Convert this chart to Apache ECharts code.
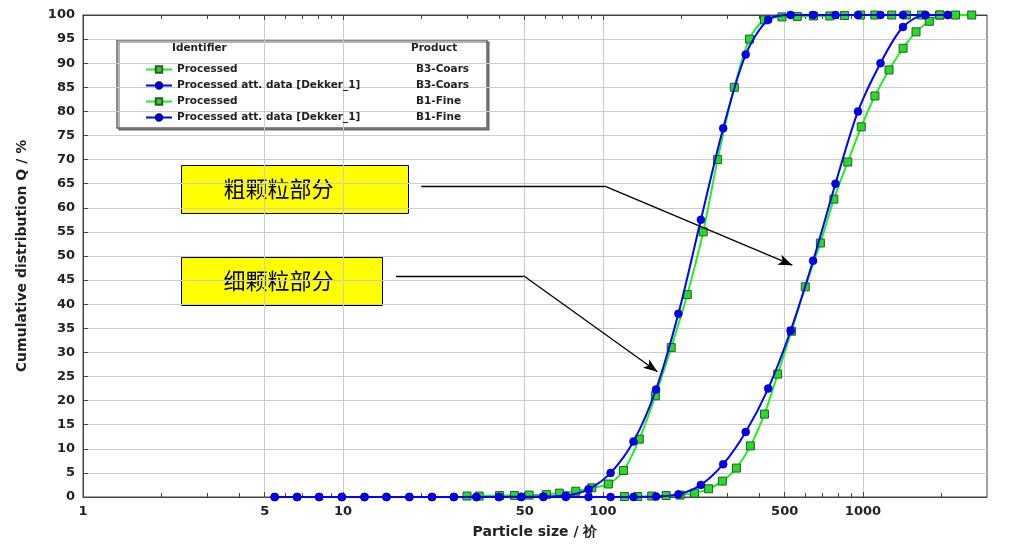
<!DOCTYPE html>
<html><head><meta charset="utf-8">
<script src="https://cdn.jsdelivr.net/npm/echarts@6/dist/echarts.min.js"></script>
<style>html,body{margin:0;background:#fff}#c{width:1024px;height:546px}</style></head>
<body><div id="c"></div>
<script>
const tickValues=[1,5,10,50,100,500,1000];
const sieveBlue=[5.46,6.66,8.1,9.9,12.1,14.7,18,22,26.7,32.6,39.8,48.5,59,72,88,107,131,160,195,238,290,354,432,527,643,784,957,1168,1425,1738,2121];
const coarseBlueQ=[0,0,0,0,0,0,0,0,0,0,0,0.05,0.1,0.3,1.6,5,11.5,22.3,38,57.5,76.5,91.8,99,100,100,100,100,100,100,100,100];
const fineBlueSize=[5.46,6.66,8.1,9.9,12.1,14.7,18,22,26.7,32.6,39.8,48.5,59,72,88,107,131,160,195,238,290,354,432,527,643,784,957,1168,1425,1738,2121];
const fineBlueQ=[0,0,0,0,0,0,0,0,0,0,0,0,0,0,0,0,0,0.1,0.5,2.5,6.8,13.5,22.5,34.5,49,65,80,90,97.5,100,100];
const coarseGreenSize=[30,33.4,40,45.7,52,60.6,68,78.6,90.6,105,120,138,159,183,211,243,276,320,366,418,488,559,645,746,850,980,1110,1290,1470,1680,1970];
const coarseGreenQ=[0.2,0.2,0.3,0.3,0.4,0.5,0.8,1.2,1.9,2.7,5.5,12,21,31,42,55,70,85,95,99,99.6,99.7,99.8,99.8,99.9,100,100,100,100,100,100];
const fineGreenSize=[121,136,154,175,198,225,255,288,326,369,418,470,531,600,686,773,874,985,1112,1260,1427,1600,1800,1976,2270,2620];
const fineGreenQ=[0.1,0.1,0.2,0.3,0.4,0.8,1.7,3.3,6,10.6,17.2,25.5,34.4,43.6,52.7,61.8,69.5,76.8,83.2,88.6,93.1,96.5,98.7,100,100,100];
const zip=(a,b)=>a.map((v,i)=>[v,b[i]]);
const names={'gc':['Processed','B3-Coars'],'bc':['Processed att. data [Dekker_1]','B3-Coars'],'gf':['Processed','B1-Fine'],'bf':['Processed att. data [Dekker_1]','B1-Fine']};
const font='"Liberation Sans", Arial, sans-serif';
const lfont='"DejaVu Sans", sans-serif';
const green={type:'line',smooth:0.3,symbol:'rect',symbolSize:8,lineStyle:{color:'#22ee22',width:2},itemStyle:{color:'#22dd22',borderColor:'#335533',borderWidth:1}};
const blue={type:'line',smooth:0.3,symbol:'circle',symbolSize:8,lineStyle:{color:'#0000ff',width:2},itemStyle:{color:'#0000ee',borderColor:'#000088',borderWidth:0.5}};
const arrowStyle={color:'#000',width:1.3,type:'solid'};
const chart=echarts.init(document.getElementById('c'));
chart.setOption({
 animation:false,
 grid:{left:83,right:37,top:15,bottom:49,show:true,borderColor:'#444',borderWidth:1},
 xAxis:[{type:'log',logBase:10,min:1,max:3000,name:'Particle size / 祄',nameLocation:'middle',nameGap:28,
   nameTextStyle:{fontFamily:lfont,fontWeight:'bold',fontSize:14,color:'#222'},
   axisLine:{lineStyle:{color:'#444'}},
   axisTick:{show:true,customValues:tickValues,inside:true,length:5,lineStyle:{color:'#444'}},
   axisLabel:{customValues:tickValues,formatter:v=>String(Math.round(v)),fontFamily:lfont,fontWeight:'bold',fontSize:13,color:'#222'},
   splitLine:{show:true,lineStyle:{color:'#ccc'}},
   minorTick:{show:true,splitNumber:9,length:4,lineStyle:{color:'#444'}}},
  {type:'log',logBase:10,min:1,max:3000,position:'top',axisLine:{lineStyle:{color:'#444'}},
   axisTick:{show:true,inside:true,customValues:tickValues,length:5,lineStyle:{color:'#444'}},
   minorTick:{show:true,splitNumber:9,length:4,lineStyle:{color:'#444'}},
   axisLabel:{show:false},splitLine:{show:false}}],
 yAxis:{type:'value',min:0,max:100,interval:5,name:'Cumulative distribution Q / %',nameLocation:'middle',nameGap:54,
   nameTextStyle:{fontFamily:lfont,fontWeight:'bold',fontSize:14,color:'#222'},
   axisLine:{show:true,lineStyle:{color:'#444'}},axisTick:{show:true,inside:true,lineStyle:{color:'#444'}},
   axisLabel:{fontFamily:lfont,fontWeight:'bold',fontSize:13,color:'#222'},
   splitLine:{lineStyle:{color:'#ccc'}}},
 legend:{orient:'vertical',left:140,top:59,itemGap:5,itemWidth:26,itemHeight:8,
   data:['gc','bc','gf','bf'],
   formatter:n=>'{a|'+names[n][0]+'}{b|'+names[n][1]+'}',
   textStyle:{rich:{a:{width:239,fontFamily:lfont,fontWeight:'bold',fontSize:10.5,color:'#222'},b:{fontFamily:lfont,fontWeight:'bold',fontSize:10.5,color:'#222'}}}},
 graphic:[
  {type:'rect',shape:{x:117,y:40,width:370,height:88},style:{fill:'#fff',stroke:'#666',lineWidth:1.5,shadowColor:'rgba(0,0,0,0.4)',shadowOffsetX:2,shadowOffsetY:2},z:-1},
  {type:'text',left:172,top:43,style:{text:'Identifier',font:'bold 10.5px '+lfont,fill:'#222'}},
  {type:'text',left:411,top:43,style:{text:'Product',font:'bold 10.5px '+lfont,fill:'#222'}},
  {type:'group',left:181,top:165,children:[{type:'rect',shape:{width:227,height:48},style:{fill:'#ffff00',stroke:'#000',lineWidth:1}},
   {type:'text',style:{text:'粗颗粒部分',x:42,y:12,font:'22px "Noto Sans CJK SC"',fill:'#000'}}]},
  {type:'group',left:181,top:257,children:[{type:'rect',shape:{width:201,height:48},style:{fill:'#ffff00',stroke:'#000',lineWidth:1}},
   {type:'text',style:{text:'细颗粒部分',x:42,y:12,font:'22px "Noto Sans CJK SC"',fill:'#000'}}]}
 ],
 series:[
  Object.assign({name:'gc',data:zip(coarseGreenSize,coarseGreenQ),z:2},green),
  Object.assign({name:'bc',data:zip(sieveBlue,coarseBlueQ),z:3},blue),
  Object.assign({name:'gf',data:zip(fineGreenSize,fineGreenQ),z:2},green),
  Object.assign({name:'bf',data:zip(fineBlueSize,fineBlueQ),z:3,
   markLine:{silent:true,symbol:['none','arrow'],symbolSize:[8,14],label:{show:false},lineStyle:arrowStyle,z:10,
    data:[
     [{coord:[20,64.5],symbol:'none'},{coord:[101.6,64.5],symbol:'none'}],
     [{coord:[101.6,64.5]},{coord:[535,48.1]}],
     [{coord:[16,45.9],symbol:'none'},{coord:[49.5,45.9],symbol:'none'}],
     [{coord:[49.5,45.9]},{coord:[162,26]}]
    ]}},blue)
 ]
});
</script></body></html>
